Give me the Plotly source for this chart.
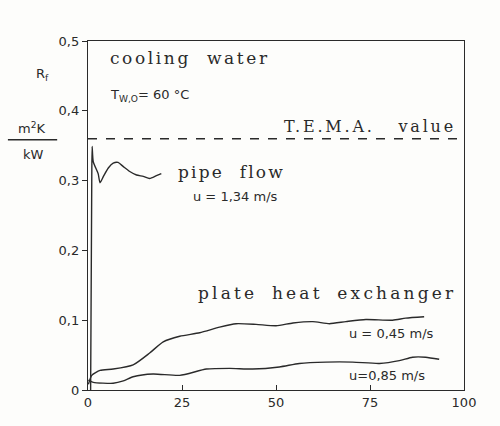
import plotly.graph_objects as go

# ---- data ----
pipe_x = [0.7, 1.0, 1.1, 1.4, 2.7, 3.2, 4.1, 5.4, 6.7, 8.0, 9.4, 11.1, 12.9, 14.7, 16.4, 18.2, 19.5]
pipe_y = [0.0, 0.30, 0.349, 0.327, 0.310, 0.297, 0.306, 0.318, 0.325, 0.326, 0.320, 0.313, 0.308, 0.306, 0.303, 0.307, 0.310]

phe045_x = [0.1, 1.0, 3.2, 6.7, 12.0, 16.4, 20.0, 24.4, 29.7, 35.0, 39.4, 44.7, 50.0, 54.5, 59.8, 64.2, 68.6, 73.9, 81.0, 84.5, 89.4]
phe045_y = [0.008, 0.021, 0.028, 0.030, 0.036, 0.053, 0.069, 0.077, 0.082, 0.090, 0.095, 0.094, 0.092, 0.096, 0.098, 0.095, 0.098, 0.101, 0.100, 0.103, 0.105]

phe085_x = [0.1, 1.4, 6.7, 9.4, 12.0, 17.3, 24.4, 31.5, 37.7, 43.8, 50.9, 56.2, 63.3, 70.4, 77.5, 82.8, 86.3, 89.8, 93.4]
phe085_y = [0.014, 0.011, 0.0096, 0.013, 0.019, 0.023, 0.021, 0.030, 0.031, 0.030, 0.033, 0.038, 0.040, 0.040, 0.038, 0.042, 0.047, 0.047, 0.044]

tema_value = 0.36

x_ticks = [0, 25, 50, 75, 100]
x_ticklabels = ["0", "25", "50", "75", "100"]
y_ticks = [0, 0.1, 0.2, 0.3, 0.4, 0.5]
y_ticklabels = ["0", "0,1", "0,2", "0,3", "0,4", "0,5"]

# ---- figure ----
line_col = "#2a2a2a"
serif = "DejaVu Serif"
sans = "DejaVu Sans"

fig = go.Figure()
for xs, ys in [(pipe_x, pipe_y), (phe045_x, phe045_y), (phe085_x, phe085_y)]:
    fig.add_trace(go.Scatter(x=xs, y=ys, mode="lines",
                             line=dict(color=line_col, width=1.4, shape="spline", smoothing=0.6),
                             showlegend=False, hoverinfo="skip"))

fig.add_hline(y=tema_value, line=dict(color=line_col, width=1.5, dash="dash"))


def ann(x, y, text, size, font=serif, xanchor="left", xref="x", yref="y", ls=None, ws=None):
    if ls is not None:
        text = f'<span style="letter-spacing:{ls}px;word-spacing:{ws or 0}px">{text}</span>'
    fig.add_annotation(x=x, y=y, xref=xref, yref=yref, text=text, showarrow=False,
                       xanchor=xanchor, yanchor="middle",
                       font=dict(family=font, size=size, color=line_col))


ann(5.3, 0.475, "cooling water", 17, ls=2.6, ws=8)
ann(5.3, 0.422, "T<sub>W,O</sub>= 60 °C", 13, font=sans)
ann(51.5, 0.377, "T.E.M.A.  value", 16, ls=2.8, ws=4)
ann(23.5, 0.312, "pipe flow", 17, ls=2.2, ws=8)
ann(27.3, 0.277, "u = 1,34 m/s", 13, font=sans)
ann(28.8, 0.139, "plate heat exchanger", 17, ls=3.2, ws=6)
ann(69.0, 0.081, "u = 0,45 m/s", 13, font=sans)
ann(69.0, 0.021, "u=0,85 m/s", 13, font=sans)

# y axis label
ann(-0.12, 0.903, "R<sub>f</sub>", 13, font=sans, xanchor="center", xref="paper", yref="paper")
ann(-0.149, 0.75, "m<sup>2</sup>K", 13, font=sans, xanchor="center", xref="paper", yref="paper")
ann(-0.145, 0.675, "kW", 13, font=sans, xanchor="center", xref="paper", yref="paper")
fig.add_shape(type="line", xref="paper", yref="paper", x0=-0.213, x1=-0.082, y0=0.717, y1=0.717,
              line=dict(color=line_col, width=1.3))

fig.update_layout(
    width=500, height=426,
    margin=dict(l=88, r=36, t=41, b=36),
    paper_bgcolor="#fdfdfb", plot_bgcolor="#fdfdfb",
    xaxis=dict(range=[0, 100], tickvals=x_ticks, ticktext=x_ticklabels, ticks="inside", ticklen=5,
               showline=True, mirror=True, linecolor=line_col, linewidth=1.3, showgrid=False,
               zeroline=False, tickfont=dict(family=sans, size=13, color=line_col), tickcolor=line_col),
    yaxis=dict(range=[0, 0.5], tickvals=y_ticks, ticktext=y_ticklabels, ticks="outside", ticklen=5,
               showline=True, mirror=True, linecolor=line_col, linewidth=1.3, showgrid=False,
               zeroline=False, tickfont=dict(family=sans, size=13, color=line_col), tickcolor=line_col),
)

fig.write_html("out.html")
